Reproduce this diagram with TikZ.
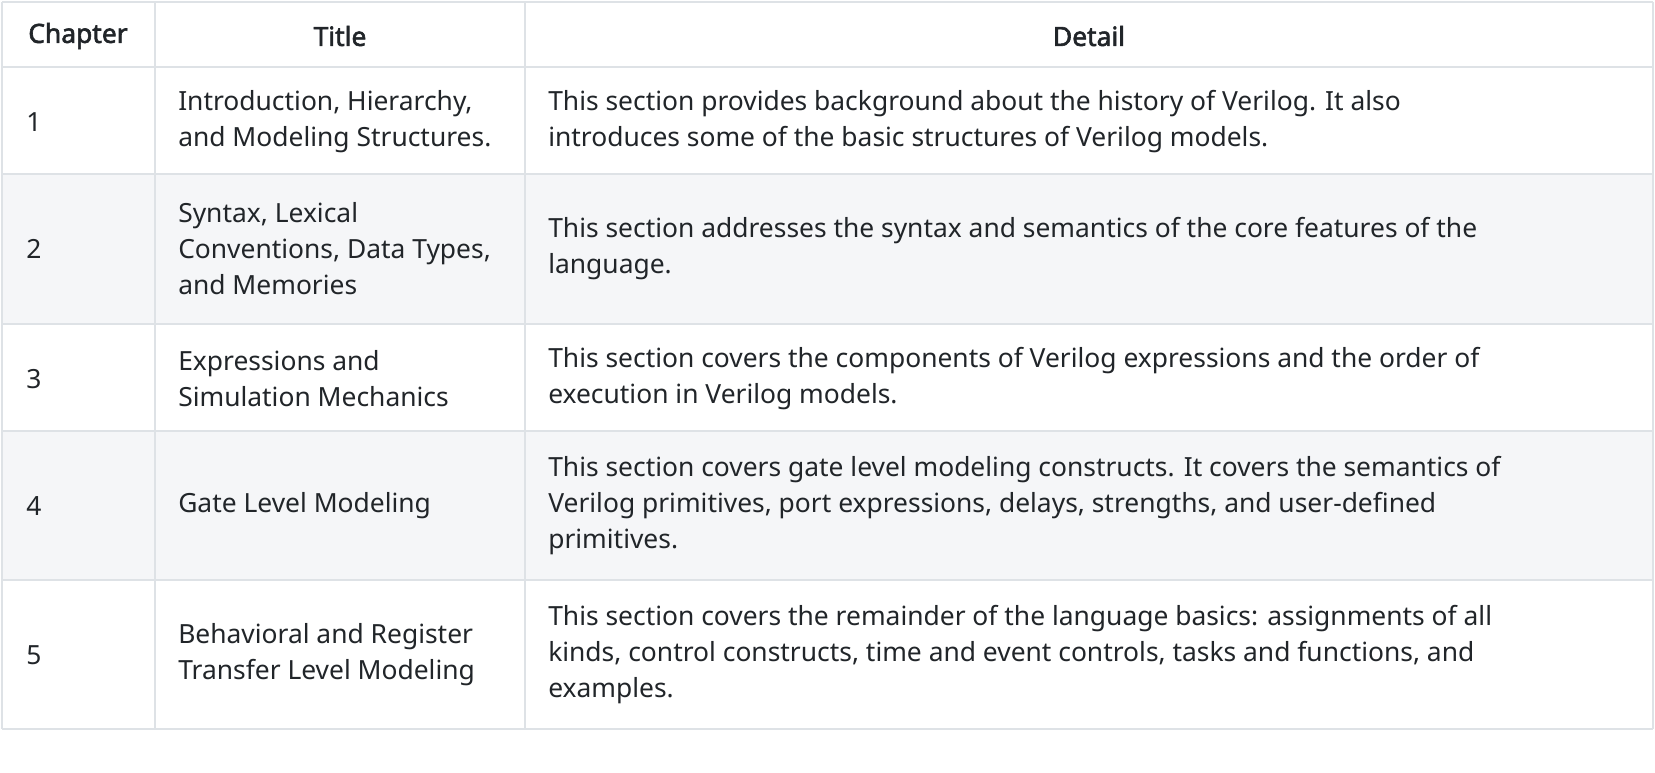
\documentclass[tikz,border=0pt]{standalone}
\usepackage{fontspec}
\setmainfont{Noto Sans}
\newfontfamily\hb{Noto Sans}[FakeBold=2.2]
\definecolor{rowgray}{HTML}{F5F6F8}
\definecolor{gridc}{HTML}{DEE2E6}
\definecolor{txt}{HTML}{212529}
\begin{document}
\begin{tikzpicture}[x=0.75pt,y=-0.75pt,
  cell/.style={anchor=west,align=left,inner sep=0pt,text=txt,font=\fontsize{19.8pt}{27pt}\selectfont},
  head/.style={anchor=center,inner sep=0pt,text=txt,font=\hb\fontsize{19.8pt}{27pt}\selectfont},
  grid/.style={draw=gridc,line width=0.8pt}]
\useasboundingbox (0,0) rectangle (1655,772);
\fill[white] (0,0) rectangle (1655,772);
\fill[rowgray] (2,174) rectangle (1653,324);
\fill[rowgray] (2,431) rectangle (1653,580);
\foreach \y in {2,67,174,324,431,580,729} \draw[grid] (2,\y) -- (1653,\y);
\foreach \x in {2,155,525,1653} \draw[grid] (\x,2) -- (\x,729);
\node[head] (h1) at (78,36) {Chapter};
\node[head] (h2) at (340,36) {Title};
\node[head] (h3) at (1089,36) {Detail};
\node[cell] (c1) at (26,122) {1};
\node[cell] (t1) at (178,122) {Introduction, Hierarchy,\\and Modeling Structures.};
\node[cell] (d1) at (548,122) {This section provides background about the history of Verilog. It also\\introduces some of the basic structures of Verilog models.};
\node[cell] (c2) at (26,249) {2};
\node[cell] (t2) at (178,249) {Syntax, Lexical\\Conventions, Data Types,\\and Memories};
\node[cell] (d2) at (548,249) {This section addresses the syntax and semantics of the core features of the\\language.};
\node[cell] (c3) at (26,379) {3};
\node[cell] (t3) at (178,379) {Expressions and\\Simulation Mechanics};
\node[cell] (d3) at (548,379) {This section covers the components of Verilog expressions and the order of\\execution in Verilog models.};
\node[cell] (c4) at (26,506) {4};
\node[cell] (t4) at (178,506) {Gate Level Modeling};
\node[cell] (d4) at (548,506) {This section covers gate level modeling constructs. It covers the semantics of\\Verilog primitives, port expressions, delays, strengths, and user-defined\\primitives.};
\node[cell] (c5) at (26,655) {5};
\node[cell] (t5) at (178,655) {Behavioral and Register\\Transfer Level Modeling};
\node[cell] (d5) at (548,655) {This section covers the remainder of the language basics: assignments of all\\kinds, control constructs, time and event controls, tasks and functions, and\\examples.};
\end{tikzpicture}
\end{document}
